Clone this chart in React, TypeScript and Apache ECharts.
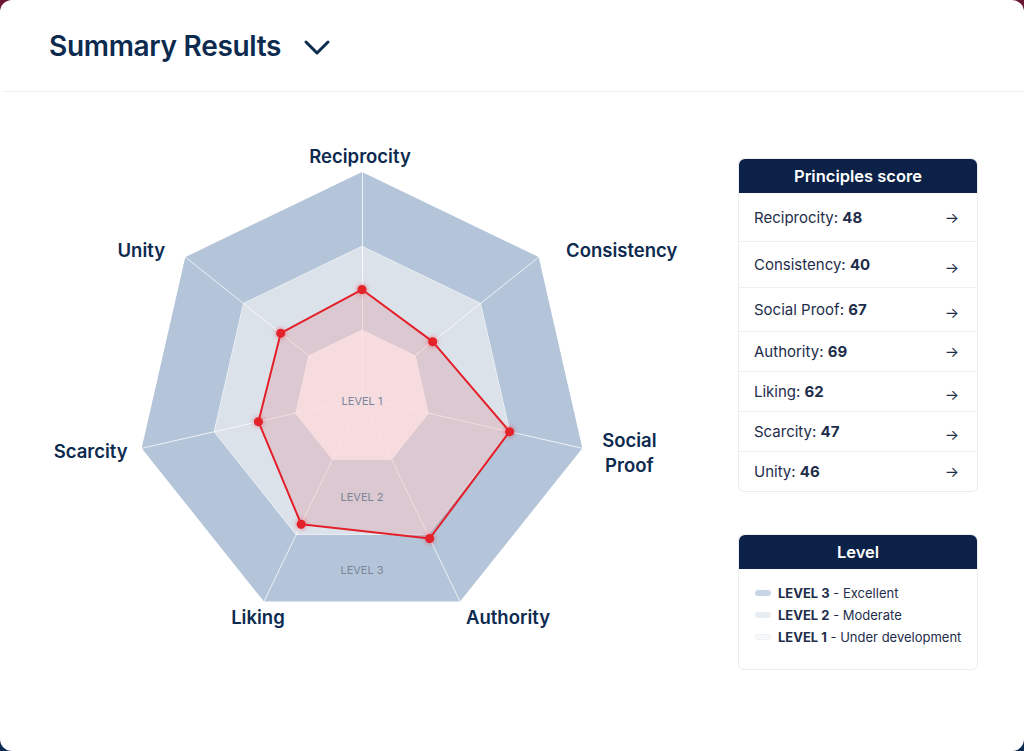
import React, { useEffect, useRef } from "react";
import * as echarts from "echarts";

// Principle names, in the order they are listed in the score table
const principles = ["Reciprocity", "Consistency", "Social Proof", "Authority", "Liking", "Scarcity", "Unity"];
const scores = [48, 40, 67, 69, 62, 47, 46];

// Level bands (inner to outer)
const levelNames = ["LEVEL 1", "LEVEL 2", "LEVEL 3"];
const levelDescriptions = ["Under development", "Moderate", "Excellent"];
const levelCeilings = [30, 67, 100];
const scaleMax = 100;

const NAVY = "#0d2a4f";
const TEXT = "#1e2d4a";
const FONT = "Inter, 'Noto Sans', sans-serif";

const levelFill = ["#f8f9fb", "#dbe2ea", "#b4c5d9"];
const levelSwatch = ["#f7f8fa", "#e8edf3", "#c8d5e6"];

// Radar layout (inside the chart div)
const CHART_W = 720;
const CHART_H = 659;
const CX = 362;
const CY = 306;
const RADIUS = 226;

// Where each principle's name sits, relative to the outer corner of its spoke (table order)
const nameOffsets: [number, number][] = [
  [-2, -16],
  [83, -7],
  [47, 4],
  [48, 15],
  [-6, 15],
  [-51, 3],
  [-44, -7],
];

// ECharts lays radar indicators out counter-clockwise; the table order runs clockwise
const displayOrder = [0, 6, 5, 4, 3, 2, 1];

function RadarChart() {
  const ref = useRef<HTMLDivElement>(null);
  useEffect(() => {
    if (!ref.current) return;
    const chart = echarts.init(ref.current, undefined, { renderer: "svg" });

    const indicator = displayOrder.map((i) => ({ name: principles[i], max: scaleMax, min: 0 }));
    const orderedScores = displayOrder.map((i) => scores[i]);

    const levelSeries = [2, 1, 0].map((li) => ({
      type: "radar",
      name: levelNames[li],
      z: 1,
      silent: true,
      symbol: "none",
      lineStyle: { color: "#ffffff", width: 1.2, opacity: 0.9 },
      areaStyle: { color: levelFill[li], opacity: 1 },
      data: [{ value: indicator.map(() => levelCeilings[li]), name: levelNames[li] }],
    }));

    // Band labels sit midway between the bottom edges of each band
    const bottomFactor = Math.cos(Math.PI / 7);
    const bandLabels = levelNames.map((name, li) => {
      const lo = li === 0 ? 0 : levelCeilings[li - 1];
      const hi = levelCeilings[li];
      const mid = li === 0 ? 0.015 : (bottomFactor * (lo + hi)) / 2 / scaleMax + (li === 2 ? 0.008 : 0);
      return {
        type: "text",
        z: 10,
        silent: true,
        style: {
          text: name,
          x: CX,
          y: CY + mid * RADIUS,
          align: "center",
          verticalAlign: "middle",
          fill: "#7a8598",
          font: `400 11px ${FONT}`,
        },
      };
    });

    // Principle names placed around the outer corners (clockwise from the top)
    const nameLabels = principles.map((p, i) => {
      const theta = (i * 2 * Math.PI) / principles.length;
      const vx = CX + RADIUS * Math.sin(theta);
      const vy = CY - RADIUS * Math.cos(theta);
      return {
        type: "text",
        z: 10,
        silent: true,
        style: {
          text: p === "Social Proof" ? "Social\nProof" : p,
          x: vx + nameOffsets[i][0],
          y: vy + nameOffsets[i][1],
          align: "center",
          verticalAlign: "middle",
          lineHeight: 25,
          fill: NAVY,
          font: `600 18.5px ${FONT}`,
        },
      };
    });

    chart.setOption({
      animation: false,
      textStyle: { fontFamily: FONT },
      radar: {
        center: [CX, CY],
        radius: RADIUS,
        startAngle: 90,
        shape: "polygon",
        splitNumber: 3,
        z: 2,
        indicator,
        axisName: { show: false },
        axisLine: { lineStyle: { color: "rgba(255,255,255,0.75)", width: 1 } },
        splitLine: { show: false },
        splitArea: { show: false },
        axisTick: { show: false },
        axisLabel: { show: false },
      },
      series: [
        ...levelSeries,
        {
          type: "radar",
          name: "Score",
          z: 3,
          symbol: "circle",
          symbolSize: 9,
          lineStyle: { color: "#e3202b", width: 2 },
          itemStyle: { color: "#e3202b", shadowBlur: 5, shadowColor: "rgba(227,32,43,0.55)" },
          areaStyle: { color: "rgba(228,30,40,0.185)" },
          data: [{ value: orderedScores, name: "Score" }],
        },
      ],
      graphic: [...bandLabels, ...nameLabels],
    });
    return () => chart.dispose();
  }, []);
  return <div ref={ref} style={{ position: "absolute", left: 0, top: 92, width: CHART_W, height: CHART_H }} />;
}

const rowHeights = [48, 46, 44, 40, 40, 40, 40];

function PanelHeader({ title }: { title: string }) {
  return (
    <div
      style={{
        height: 34,
        background: "#0b2148",
        color: "#ffffff",
        fontSize: 16.5,
        fontWeight: 600,
        display: "flex",
        alignItems: "center",
        justifyContent: "center",
        borderTopLeftRadius: 6,
        borderTopRightRadius: 6,
      }}
    >
      {title}
    </div>
  );
}

export default function App() {
  return (
    <div
      style={{
        position: "fixed",
        inset: 0,
        background: "linear-gradient(180deg, #6b1731 0%, #3c2140 50%, #0d2a4f 100%)",
        fontFamily: FONT,
      }}
    >
      <div
        style={{
          position: "absolute",
          inset: 0,
          background: "#ffffff",
          borderRadius: 12,
          overflow: "hidden",
        }}
      >
        <div
          style={{
            position: "absolute",
            left: 49,
            top: 28,
            fontSize: 28,
            fontWeight: 600,
            color: NAVY,
            letterSpacing: -0.3,
            lineHeight: "36px",
          }}
        >
          Summary Results
        </div>
        <svg style={{ position: "absolute", left: 303, top: 38 }} width={28} height={20} viewBox="0 0 28 20">
          <polyline points="3,4 14,15 25,4" fill="none" stroke={NAVY} strokeWidth={3} strokeLinecap="round" strokeLinejoin="round" />
        </svg>
        <div style={{ position: "absolute", left: 3, right: 0, top: 91, height: 1, background: "#eeeff1" }} />

        <RadarChart />

        {/* Principles score table */}
        <div
          style={{
            position: "absolute",
            left: 738,
            top: 158,
            width: 240,
            border: "1px solid #ececec",
            borderRadius: 6,
            background: "#fff",
            boxSizing: "border-box",
          }}
        >
          <PanelHeader title="Principles score" />
          {principles.map((p, i) => (
            <div
              key={p}
              style={{
                height: rowHeights[i],
                boxSizing: "border-box",
                borderTop: i === 0 ? "none" : "1px solid #efefef",
                display: "flex",
                alignItems: "center",
                justifyContent: "space-between",
                padding: "0 18px 0 15px",
                fontSize: 15,
                color: TEXT,
              }}
            >
              <span>
                {p}: <b style={{ fontWeight: 700 }}>{scores[i]}</b>
              </span>
              <span style={{ fontSize: 15, marginTop: i % 3 === 0 ? 0 : 6 }}>→</span>
            </div>
          ))}
        </div>

        {/* Level legend */}
        <div
          style={{
            position: "absolute",
            left: 738,
            top: 534,
            width: 240,
            height: 136,
            border: "1px solid #ececec",
            borderRadius: 6,
            background: "#fff",
            boxSizing: "border-box",
          }}
        >
          <PanelHeader title="Level" />
          <div style={{ paddingTop: 13 }}>
            {[2, 1, 0].map((li) => (
              <div
                key={li}
                style={{ display: "flex", alignItems: "center", height: 22, paddingLeft: 16, fontSize: 13, color: TEXT }}
              >
                <span
                  style={{
                    display: "inline-block",
                    width: 16,
                    height: 6,
                    borderRadius: 3,
                    background: levelSwatch[li],
                    border: li === 0 ? "1px solid #f0f1f3" : "none",
                    boxSizing: "border-box",
                    marginRight: 7,
                  }}
                />
                <span>
                  <b style={{ fontWeight: 700 }}>{levelNames[li]}</b> - {levelDescriptions[li]}
                </span>
              </div>
            ))}
          </div>
        </div>
      </div>
    </div>
  );
}
